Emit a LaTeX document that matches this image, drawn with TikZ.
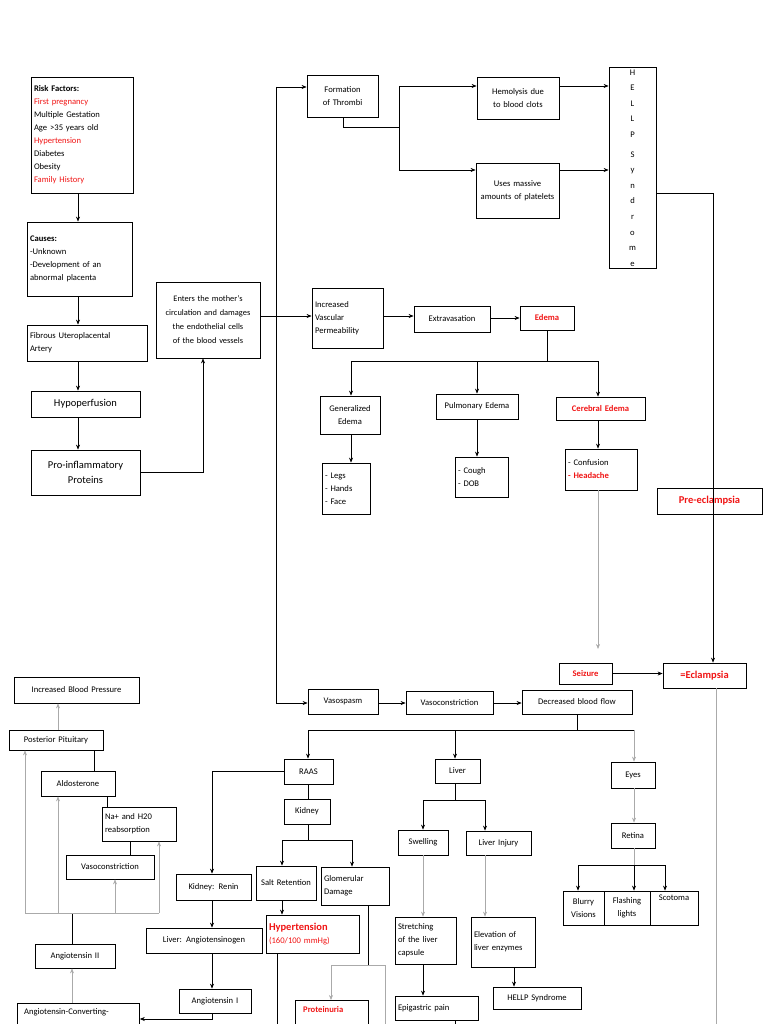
\documentclass[tikz,border=0pt]{standalone}
\usepackage{fontspec}
\setmainfont{Carlito}
\usetikzlibrary{arrows.meta,calc}
\definecolor{rd}{RGB}{240,20,20}
\definecolor{gl}{RGB}{170,170,170}
\hyphenpenalty=10000
\exhyphenpenalty=10000
\newcommand\bx[7][]{\node[box,#1,minimum width={(#5-#3)*1pt},minimum height={(#6-#4)*1pt},text width={(#5-#3-6)*1pt}] (#2) at ({(#3+#5)/2},{(#4+#6)/2}) {#7};}
\begin{document}
\begin{tikzpicture}[x=1pt,y=-1pt,
  box/.style={draw,line width=0.8pt,inner sep=2pt,align=center,font=\fontsize{8.6}{13}\selectfont},
  ar/.style={-{Stealth[length=5pt,width=4pt]},line width=0.6pt},
  ln/.style={line width=0.6pt},
  g/.style={draw=gl,line width=1pt},
  rb/.style={text=rd,font=\fontsize{9.2}{13}\selectfont\bfseries}]
\useasboundingbox (0,0) rectangle (768,1024);
\clip (0,0) rectangle (768,1024);
% left column
\bx[align=left]{risk}{31}{77}{133}{193}{\textbf{Risk Factors:}\\\textcolor{rd}{First pregnancy}\\Multiple Gestation\\Age >35 years old\\\textcolor{rd}{Hypertension}\\Diabetes\\Obesity\\\textcolor{rd}{Family History}}
\bx[align=left]{cause}{27}{222}{132}{296}{\textbf{Causes:}\\-Unknown\\-Development of an\\abnormal placenta}
\bx[align=left]{fib}{27}{325}{147}{361}{Fibrous Uteroplacental\\Artery}
\bx[font=\fontsize{10.5}{14}\selectfont]{hypo}{31}{391}{140}{417}{Hypoperfusion}
\bx[font=\fontsize{10.5}{15}\selectfont]{pro}{31}{450}{140}{495}{Pro-inflammatory\\Proteins}
\bx[font=\fontsize{8.4}{14}\selectfont]{enter}{156}{282}{260}{358}{Enters the mother's circulation and damages the endothelial cells of the blood vessels}
\draw[ar] (risk.south -| 78,0) -- (cause.north -| 78,0);
\draw[ar] (cause.south -| 78,0) -- (fib.north -| 78,0);
\draw[ar] (fib.south -| 78,0) -- (hypo.north -| 78,0);
\draw[ar] (hypo.south -| 78,0) -- (pro.north -| 78,0);
\draw[ar] (pro.east) -| (203,0 |- enter.south);
% trunk
\coordinate (t1) at (276,87);
\coordinate (t2) at (276,316);
\coordinate (t3) at (276,703);
\draw[ln] (enter.east |- t2) -- (t2);
\draw[ln] (t1) -- (t3);
\bx{form}{307}{75}{378}{117}{Formation\\of Thrombi}
\bx{hemo}{477}{77}{559}{119}{Hemolysis due\\to blood clots}
\bx{uses}{476}{163}{559}{218}{Uses massive amounts of platelets}
\bx[font=\fontsize{8.6}{15.6}\selectfont]{hellp}{609}{70}{656}{266}{H\\E\\L\\L\\P\\[4pt]S\\y\\n\\d\\r\\o\\m\\e}
\draw[ar] (t1) -- (t1 -| form.west);
\draw[ln] (343,0 |- form.south) -- (343,127) -- (399,127);
\draw[ln] (399,86) -- (399,170);
\draw[ar] (399,86) -- (399,86 -| hemo.west);
\draw[ar] (399,170) -- (399,170 -| uses.west);
\draw[ar] (hemo.east |- 0,86) -- (hellp.west |- 0,86);
\draw[ar] (uses.east |- 0,170) -- (hellp.west |- 0,170);
\bx[rb,font=\fontsize{10.5}{13}\selectfont\bfseries]{pre}{657}{488}{762}{514}{Pre-eclampsia}
\bx[rb,font=\fontsize{10.5}{13}\selectfont\bfseries]{ecl}{663}{663}{746}{688}{=Eclampsia}
\draw[ar] (hellp.east |- 0,193) -| (713,0 |- ecl.north);
\draw[g] (716,0 |- ecl.south) -- (716,1024);
% permeability
\bx[align=left]{perm}{312}{288}{383}{348}{Increased Vascular Permeability}
\bx{extra}{414}{306}{490}{332}{Extravasation}
\bx[rb,font=\fontsize{8.6}{12}\selectfont\bfseries]{edema}{520}{306}{574}{330}{Edema}
\draw[ar] (t2) -- (perm.west |- t2);
\draw[ar] (perm.east |- 0,316) -- (extra.west |- 0,316);
\draw[ar] (extra.east |- 0,318) -- (edema.west |- 0,318);
\bx{gen}{320}{396}{380}{434}{Generalized Edema}
\bx{pulm}{436}{394}{518}{419}{Pulmonary Edema}
\bx[rb,font=\fontsize{8.6}{12}\selectfont\bfseries]{cere}{556}{397}{645}{420}{Cerebral Edema}
\draw[ln] (547,0 |- edema.south) -- (547,361);
\draw[ln] (351,361) -- (598,361);
\draw[ar] (351,361) -- (351,0 |- gen.north);
\draw[ar] (477,361) -- (477,0 |- pulm.north);
\draw[ar] (598,361) -- (598,0 |- cere.north);
\bx[align=left]{legs}{322}{463}{370}{514}{- Legs\\- Hands\\- Face}
\bx[align=left]{cough}{455}{457}{508}{497}{- Cough\\- DOB}
\bx[align=left]{conf}{565}{449}{637}{490}{- Confusion\\\textcolor{rd}{\textbf{- Headache}}}
\draw[ar] (351,0 |- gen.south) -- (351,0 |- legs.north);
\draw[ar] (477,0 |- pulm.south) -- (477,0 |- cough.north);
\draw[ar] (598,0 |- cere.south) -- (598,0 |- conf.north);
\bx[rb,font=\fontsize{8.6}{12}\selectfont\bfseries]{seiz}{559}{663}{612}{684}{Seizure}
\draw[ar,draw=gl] (598,0 |- conf.south) -- (598,649);
\draw[ar] (seiz.east) -- (ecl.west |- seiz.east);
% vasospasm row
\bx{vaso}{308}{689}{378}{714}{Vasospasm}
\bx{vcon}{406}{691}{493}{714}{Vasoconstriction}
\bx{dec}{522}{690}{632}{714}{Decreased blood flow}
\draw[ar] (t3) -- (vaso.west |- t3);
\draw[ar] (vaso.east |- 0,703) -- (vcon.west |- 0,703);
\draw[ar] (vcon.east |- 0,703) -- (dec.west |- 0,703);
\draw[ln] (577,0 |- dec.south) -- (577,730);
\draw[ln] (308,730) -- (634,730);
\bx{raas}{284}{759}{333}{784}{RAAS}
\bx{liver}{435}{759}{480}{783}{Liver}
\bx{eyes}{611}{762}{655}{788}{Eyes}
\draw[ar] (308,730) -- (308,0 |- raas.north);
\draw[ar] (455,730) -- (455,0 |- liver.north);
\draw[ar,draw=gl] (634,730) -- (634,0 |- eyes.north);
% RAAS branch
\bx{renin}{176}{874}{251}{900}{Kidney: Renin}
\bx{kid}{284}{799}{330}{824}{Kidney}
\draw[ar] (raas.west) -| (212,0 |- renin.north);
\draw[ln] (308,0 |- raas.south) -- (308,0 |- kid.north);
\bx{salt}{256}{866}{316}{900}{Salt Retention}
\bx[align=left]{glom}{321}{867}{389}{905}{Glomerular Damage}
\draw[ln] (308,0 |- kid.south) -- (308,840);
\draw[ln] (282,840) -- (352,840);
\draw[ar] (282,840) -- (282,0 |- salt.north);
\draw[ar] (352,840) -- (352,0 |- glom.north);
\bx[align=left,font=\fontsize{8.6}{13}\selectfont]{hyp}{266}{915}{359}{953}{\textcolor{rd}{\textbf{\fontsize{10.5}{13}\selectfont Hypertension}}\\\textcolor{rd}{(160/100 mmHg)}}
\draw[ar] (282,0 |- salt.south) -- (282,0 |- hyp.north);
\draw[ln] (277,0 |- hyp.south) -- (277,1024);
\node[draw,line width=0.8pt,minimum width=73pt,minimum height=40pt,anchor=north west] (prot) at (295,1000) {};
\node[anchor=north west,inner sep=2pt,text=rd,font=\fontsize{8.6}{13}\selectfont\bfseries] (protT) at (301,1004) {Proteinuria};
\draw[ln] (368,0 |- glom.south) -- (368,965);
\draw[ar,draw=gl] (385,965) -- (331,965) -- (331,0 |- prot.north);
\draw[g] (385,965) -- (385,1024);
\bx{agen}{146}{928}{262}{953}{Liver: Angiotensinogen}
\bx{ang1}{179}{989}{251}{1013}{Angiotensin I}
\node[draw,line width=0.8pt,minimum width=122pt,minimum height=40pt,anchor=north west] (ace) at (17,1003) {};
\node[anchor=north west,inner sep=2pt,font=\fontsize{8.6}{13}\selectfont] (aceT) at (22,1006) {Angiotensin-Converting-};
\draw[ar] (212,0 |- ang1.south) -- (212,1019) -- (ace.east |- 0,1019);
\draw[ar] (212,0 |- renin.south) -- (212,0 |- agen.north);
\draw[ar] (212,0 |- agen.south) -- (212,0 |- ang1.north);
\bx{ang2}{35}{944}{115}{968}{Angiotensin II}
\draw[ar,draw=gl] (72,0 |- ace.north) -- (72,0 |- ang2.south);
\bx{ibp}{14}{677}{139}{703}{Increased Blood Pressure}
\bx{pp}{9}{730}{103}{750}{Posterior Pituitary}
\bx{ald}{41}{771}{115}{796}{Aldosterone}
\bx[align=left]{na}{102}{807}{176}{841}{Na+ and H20 reabsorption}
\bx{vc2}{66}{855}{154}{879}{Vasoconstriction}
\draw[ln] (72,0 |- ang2.north) -- (72,913);
\draw[g] (25,913) -- (159,913);
\draw[ar,draw=gl] (25,913) -- (25,0 |- pp.south);
\draw[ar,draw=gl] (58,913) -- (58,0 |- ald.south);
\draw[ar,draw=gl] (115,913) -- (115,0 |- vc2.south);
\draw[ar,draw=gl] (159,913) -- (159,0 |- na.south);
\draw[ar,draw=gl] (58,0 |- pp.north) -- (58,0 |- ibp.south);
\draw[ln] (94,0 |- pp.south) -- (94,0 |- ald.north);
\draw[ln] (107,0 |- ald.south) -- (107,0 |- na.north);
\draw[ln] (130,0 |- na.south) -- (130,0 |- vc2.north);
% liver branch
\bx{swell}{398}{830}{448}{855}{Swelling}
\bx{linj}{466}{831}{531}{855}{Liver Injury}
\draw[ln] (455,0 |- liver.south) -- (455,800);
\draw[ln] (423,800) -- (485,800);
\draw[ar] (423,800) -- (423,0 |- swell.north);
\draw[ar] (485,800) -- (485,0 |- linj.north);
\bx[align=left]{stret}{395}{917}{456}{964}{Stretching of the liver capsule}
\bx[align=left]{elev}{471}{917}{535}{967}{Elevation of liver enzymes}
\draw[ar,draw=gl] (423,0 |- swell.south) -- (423,0 |- stret.north);
\draw[ar,draw=gl] (485,0 |- linj.south) -- (485,0 |- elev.north);
\bx[align=left]{epi}{395}{996}{478}{1020}{Epigastric pain}
\bx{hs}{493}{987}{581}{1009}{HELLP Syndrome}
\draw[ar] (423,0 |- stret.south) -- (423,0 |- epi.north);
\draw[ar] (514,0 |- elev.south) -- (514,0 |- hs.north);
\draw[ln] (455,0 |- epi.south) -- (455,1024);
% eyes
\bx{ret}{611}{823}{655}{848}{Retina}
\draw[ar,draw=gl] (634,0 |- eyes.south) -- (634,0 |- ret.north);
\bx{blur}{563}{891}{604}{925}{Blurry Visions}
\bx{flash}{604}{891}{650}{925}{Flashing lights}
\node[draw,line width=0.8pt,minimum width=48pt,minimum height=34pt,inner sep=0pt] (scotb) at (674,908) {};
\node[font=\fontsize{8.6}{13}\selectfont] (scott) at (674,898) {Scotoma};
\draw[ln,draw=gl] (634,0 |- ret.south) -- (634,865);
\draw[ln] (578,865) -- (665,865);
\draw[ar] (578,865) -- (578,0 |- blur.north);
\draw[ar] (634,865) -- (634,0 |- flash.north);
\draw[ar] (665,865) -- (665,0 |- scotb.north);
\end{tikzpicture}
\end{document}
